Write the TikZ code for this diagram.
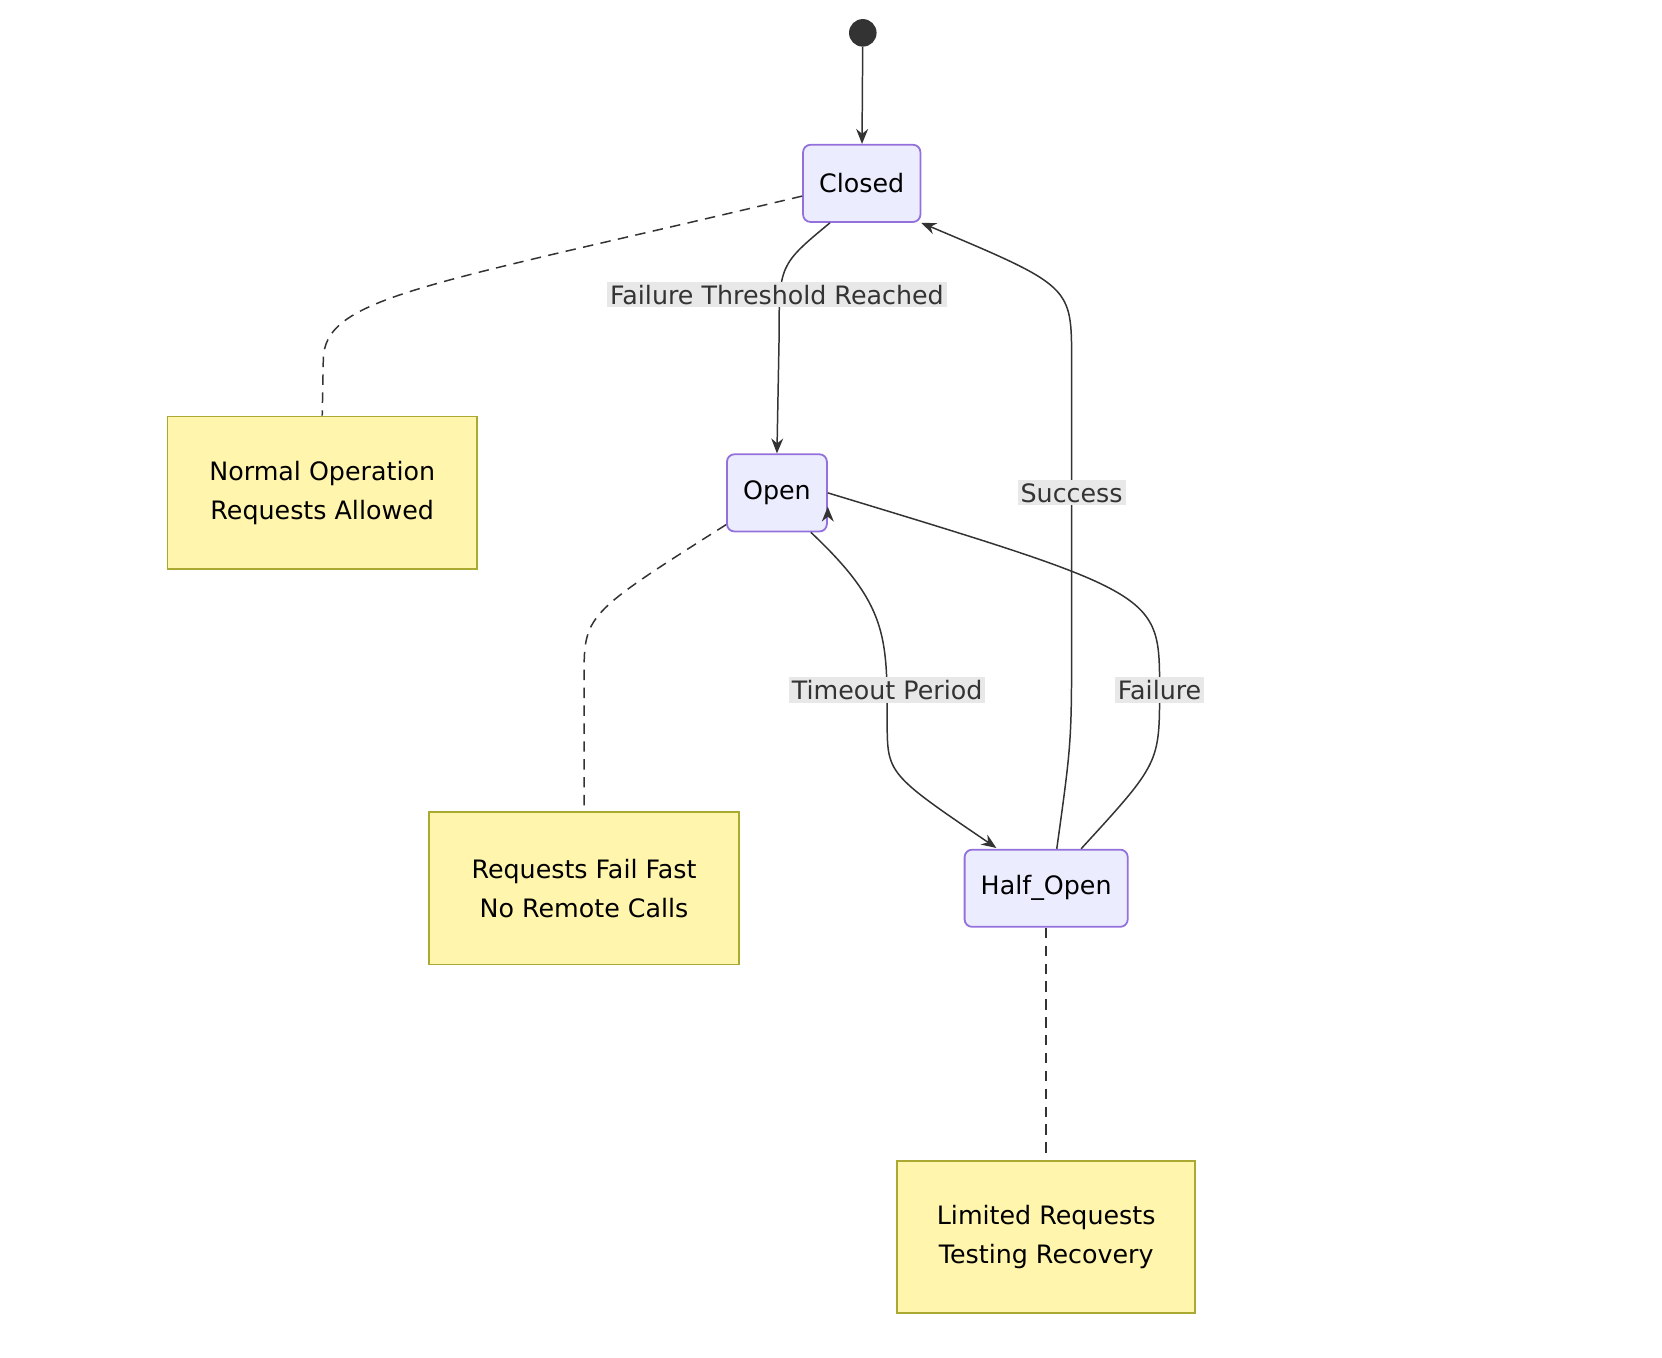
\documentclass[tikz,border=0pt]{standalone}
\usepackage{fontspec}
\setmainfont{DejaVu Sans}
\usetikzlibrary{arrows.meta}
\definecolor{stfill}{HTML}{ECECFF}
\definecolor{stline}{HTML}{9370DB}
\definecolor{ntfill}{HTML}{FFF5AD}
\definecolor{ntline}{HTML}{AAAA33}
\definecolor{edge}{HTML}{333333}
\definecolor{lblbg}{HTML}{E8E8E8}
\begin{document}
\begin{tikzpicture}[x=0.025cm,y=-0.025cm,
  every node/.style={font=\fontsize{17}{26}\selectfont},
  state/.style={draw=stline,fill=stfill,line width=1.2pt,rounded corners=5pt,
    minimum height=1.82cm,inner xsep=0.38cm},
  note/.style={draw=ntline,fill=ntfill,line width=1.2pt,minimum width=7.3cm,
    minimum height=3.6cm,align=center},
  lbl/.style={fill=lblbg,inner sep=2pt,text=edge},
  tr/.style={draw=edge,line width=1pt,-{Stealth[length=10pt,width=8pt]}},
  dsh/.style={draw=edge,line width=1pt,dash pattern=on 7pt off 5pt}]
\useasboundingbox (0,0) rectangle (1568,1281);
\node[circle,fill=edge,minimum size=0.65cm,inner sep=0] (start) at (814,31) {};
\node[state] (closed) at (813,173) {Closed};
\node[state] (open) at (733,465) {Open};
\node[state] (half) at (987,838) {Half\_Open};
\node[note] (n1) at (304,465) {Normal Operation\\Requests Allowed};
\node[note] (n2) at (551,838) {Requests Fail Fast\\No Remote Calls};
\node[note,minimum width=7.03cm] (n3) at (987,1167) {Limited Requests\\Testing Recovery};

\draw[tr] (start) -- (closed);
\draw[tr] (closed.south) ++(-30,0) .. controls (735,250) .. (735,320) -- (open.north);
\draw[tr] (open.south) ++(32,0) .. controls (837,570) and (837,600) .. (837,680)
  .. controls (837,730) .. (940,800);
\draw[tr] (half.north) ++(10,0) .. controls (1011,700) .. (1011,600) -- (1011,340)
  .. controls (1011,270) .. (closed.south east);
\draw[tr] (half.north) ++(33,0) .. controls (1094,720) .. (1094,650)
  .. controls (1094,560) .. (open.east) ++(0,13);
\draw[dsh] (closed.west) ++(0,12) .. controls (400,270) and (305,280) .. (305,340) -- (n1.north);
\draw[dsh] (open.west) ++(0,30) .. controls (551,580) .. (551,640) -- (n2.north);
\draw[dsh] (half.south) -- (n3.north);

\node[lbl] (l1) at (733,278) {Failure Threshold Reached};
\node[lbl] (l2) at (1011,465) {Success};
\node[lbl] (l3) at (837,651) {Timeout Period};
\node[lbl] (l4) at (1094,651) {Failure};
\end{tikzpicture}
\end{document}
